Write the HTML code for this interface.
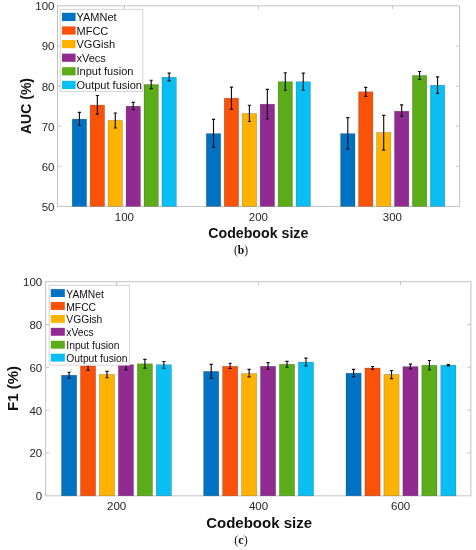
<!DOCTYPE html>
<html><head><meta charset="utf-8"><style>
html,body{margin:0;padding:0;background:#fff;width:476px;height:550px;overflow:hidden}
svg{display:block;filter:blur(0.3px)}
.tl{font-family:"Liberation Sans",sans-serif;fill:#262626}
.lt{font-family:"Liberation Sans",sans-serif;fill:#111}
.tt{font-family:"Liberation Sans",sans-serif;font-weight:bold;fill:#111}
.st{font-family:"Liberation Serif",serif;fill:#111}
</style></head><body>
<svg width="476" height="550" viewBox="0 0 476 550">
<rect x="57.5" y="5.8" width="402" height="200.6" fill="#fff" stroke="#C4C4C4" stroke-width="1"/>
<text x="54.5" y="210.9" text-anchor="end" class="tl" style="font-size:11.5px">50</text>
<line x1="57.5" y1="166.28" x2="61" y2="166.28" stroke="#C4C4C4"/>
<line x1="459.5" y1="166.28" x2="456" y2="166.28" stroke="#C4C4C4"/>
<text x="54.5" y="170.78" text-anchor="end" class="tl" style="font-size:11.5px">60</text>
<line x1="57.5" y1="126.16" x2="61" y2="126.16" stroke="#C4C4C4"/>
<line x1="459.5" y1="126.16" x2="456" y2="126.16" stroke="#C4C4C4"/>
<text x="54.5" y="130.66" text-anchor="end" class="tl" style="font-size:11.5px">70</text>
<line x1="57.5" y1="86.04" x2="61" y2="86.04" stroke="#C4C4C4"/>
<line x1="459.5" y1="86.04" x2="456" y2="86.04" stroke="#C4C4C4"/>
<text x="54.5" y="90.54" text-anchor="end" class="tl" style="font-size:11.5px">80</text>
<line x1="57.5" y1="45.92" x2="61" y2="45.92" stroke="#C4C4C4"/>
<line x1="459.5" y1="45.92" x2="456" y2="45.92" stroke="#C4C4C4"/>
<text x="54.5" y="50.42" text-anchor="end" class="tl" style="font-size:11.5px">90</text>
<text x="54.5" y="10.3" text-anchor="end" class="tl" style="font-size:11.5px">100</text>
<line x1="124.4" y1="5.8" x2="124.4" y2="9.3" stroke="#C4C4C4"/>
<text x="124.4" y="221" text-anchor="middle" class="tl" style="font-size:11.5px">100</text>
<line x1="258.4" y1="5.8" x2="258.4" y2="9.3" stroke="#C4C4C4"/>
<text x="258.4" y="221" text-anchor="middle" class="tl" style="font-size:11.5px">200</text>
<line x1="392.4" y1="5.8" x2="392.4" y2="9.3" stroke="#C4C4C4"/>
<text x="392.4" y="221" text-anchor="middle" class="tl" style="font-size:11.5px">300</text>
<rect x="72.2" y="119.1" width="14.4" height="87.3" fill="#0072C4" stroke="#000" stroke-opacity="0.28" stroke-width="0.6"/>
<rect x="90.15" y="105.1" width="14.4" height="101.3" fill="#FA5208" stroke="#000" stroke-opacity="0.28" stroke-width="0.6"/>
<rect x="108.1" y="120.4" width="14.4" height="86" fill="#FFB300" stroke="#000" stroke-opacity="0.28" stroke-width="0.6"/>
<rect x="126.05" y="106.2" width="14.4" height="100.2" fill="#912B91" stroke="#000" stroke-opacity="0.28" stroke-width="0.6"/>
<rect x="144" y="84.5" width="14.4" height="121.9" fill="#5AAD18" stroke="#000" stroke-opacity="0.28" stroke-width="0.6"/>
<rect x="161.95" y="77.2" width="14.4" height="129.2" fill="#08BEF2" stroke="#000" stroke-opacity="0.28" stroke-width="0.6"/>
<rect x="206.3" y="133.6" width="14.4" height="72.8" fill="#0072C4" stroke="#000" stroke-opacity="0.28" stroke-width="0.6"/>
<rect x="224.25" y="98.2" width="14.4" height="108.2" fill="#FA5208" stroke="#000" stroke-opacity="0.28" stroke-width="0.6"/>
<rect x="242.2" y="113.5" width="14.4" height="92.9" fill="#FFB300" stroke="#000" stroke-opacity="0.28" stroke-width="0.6"/>
<rect x="260.15" y="104.2" width="14.4" height="102.2" fill="#912B91" stroke="#000" stroke-opacity="0.28" stroke-width="0.6"/>
<rect x="278.1" y="81.7" width="14.4" height="124.7" fill="#5AAD18" stroke="#000" stroke-opacity="0.28" stroke-width="0.6"/>
<rect x="296.05" y="81.7" width="14.4" height="124.7" fill="#08BEF2" stroke="#000" stroke-opacity="0.28" stroke-width="0.6"/>
<rect x="340.6" y="133.6" width="14.4" height="72.8" fill="#0072C4" stroke="#000" stroke-opacity="0.28" stroke-width="0.6"/>
<rect x="358.55" y="91.8" width="14.4" height="114.6" fill="#FA5208" stroke="#000" stroke-opacity="0.28" stroke-width="0.6"/>
<rect x="376.5" y="132.5" width="14.4" height="73.9" fill="#FFB300" stroke="#000" stroke-opacity="0.28" stroke-width="0.6"/>
<rect x="394.45" y="111.2" width="14.4" height="95.2" fill="#912B91" stroke="#000" stroke-opacity="0.28" stroke-width="0.6"/>
<rect x="412.4" y="75.5" width="14.4" height="130.9" fill="#5AAD18" stroke="#000" stroke-opacity="0.28" stroke-width="0.6"/>
<rect x="430.35" y="85.2" width="14.4" height="121.2" fill="#08BEF2" stroke="#000" stroke-opacity="0.28" stroke-width="0.6"/>
<path d="M79.4 112.4V125.5M77.8 112.4H81M77.8 125.5H81" stroke="#111" stroke-width="1.15" fill="none"/>
<path d="M97.35 95.5V114.1M95.75 95.5H98.95M95.75 114.1H98.95" stroke="#111" stroke-width="1.15" fill="none"/>
<path d="M115.3 113V128M113.7 113H116.9M113.7 128H116.9" stroke="#111" stroke-width="1.15" fill="none"/>
<path d="M133.25 102.3V109.7M131.65 102.3H134.85M131.65 109.7H134.85" stroke="#111" stroke-width="1.15" fill="none"/>
<path d="M151.2 80.2V88.6M149.6 80.2H152.8M149.6 88.6H152.8" stroke="#111" stroke-width="1.15" fill="none"/>
<path d="M169.15 73.1V80.8M167.55 73.1H170.75M167.55 80.8H170.75" stroke="#111" stroke-width="1.15" fill="none"/>
<path d="M213.5 119.3V147.3M211.9 119.3H215.1M211.9 147.3H215.1" stroke="#111" stroke-width="1.15" fill="none"/>
<path d="M231.45 87.1V109.4M229.85 87.1H233.05M229.85 109.4H233.05" stroke="#111" stroke-width="1.15" fill="none"/>
<path d="M249.4 105.2V121.5M247.8 105.2H251M247.8 121.5H251" stroke="#111" stroke-width="1.15" fill="none"/>
<path d="M267.35 89.3V118.9M265.75 89.3H268.95M265.75 118.9H268.95" stroke="#111" stroke-width="1.15" fill="none"/>
<path d="M285.3 72.7V90.2M283.7 72.7H286.9M283.7 90.2H286.9" stroke="#111" stroke-width="1.15" fill="none"/>
<path d="M303.25 73.1V90.2M301.65 73.1H304.85M301.65 90.2H304.85" stroke="#111" stroke-width="1.15" fill="none"/>
<path d="M347.8 117.6V149.1M346.2 117.6H349.4M346.2 149.1H349.4" stroke="#111" stroke-width="1.15" fill="none"/>
<path d="M365.75 87.4V96.3M364.15 87.4H367.35M364.15 96.3H367.35" stroke="#111" stroke-width="1.15" fill="none"/>
<path d="M383.7 115.4V150.1M382.1 115.4H385.3M382.1 150.1H385.3" stroke="#111" stroke-width="1.15" fill="none"/>
<path d="M401.65 104.8V116.4M400.05 104.8H403.25M400.05 116.4H403.25" stroke="#111" stroke-width="1.15" fill="none"/>
<path d="M419.6 71.5V79.5M418 71.5H421.2M418 79.5H421.2" stroke="#111" stroke-width="1.15" fill="none"/>
<path d="M437.55 76.9V93.4M435.95 76.9H439.15M435.95 93.4H439.15" stroke="#111" stroke-width="1.15" fill="none"/>
<rect x="60.2" y="9.4" width="82.6" height="82" fill="#fff" stroke="#D4D4D4" stroke-width="1"/>
<rect x="62" y="12.8" width="13.6" height="8.2" fill="#0072C4"/>
<text x="76.5" y="21" class="lt" style="font-size:11px">YAMNet</text>
<rect x="62" y="26.4" width="13.6" height="8.2" fill="#FA5208"/>
<text x="76.5" y="34.6" class="lt" style="font-size:11px">MFCC</text>
<rect x="62" y="40" width="13.6" height="8.2" fill="#FFB300"/>
<text x="76.5" y="48.2" class="lt" style="font-size:11px">VGGish</text>
<rect x="62" y="53.6" width="13.6" height="8.2" fill="#912B91"/>
<text x="76.5" y="61.8" class="lt" style="font-size:11px">xVecs</text>
<rect x="62" y="67.2" width="13.6" height="8.2" fill="#5AAD18"/>
<text x="76.5" y="75.4" class="lt" style="font-size:11px">Input fusion</text>
<rect x="62" y="80.8" width="13.6" height="8.2" fill="#08BEF2"/>
<text x="76.5" y="89" class="lt" style="font-size:11px">Output fusion</text>
<text transform="translate(31,106) rotate(-90)" text-anchor="middle" class="tt" style="font-size:14px">AUC (%)</text>
<text x="258.3" y="238.2" text-anchor="middle" class="tt" style="font-size:14.2px">Codebook size</text>
<text x="241" y="254" text-anchor="middle" class="st" style="font-size:11.6px">(<tspan font-weight="bold">b</tspan>)</text>
<rect x="45.6" y="281.7" width="425.3" height="214.1" fill="#fff" stroke="#C4C4C4" stroke-width="1"/>
<text x="42.2" y="500.3" text-anchor="end" class="tl" style="font-size:11.5px">0</text>
<line x1="45.6" y1="452.98" x2="49.1" y2="452.98" stroke="#C4C4C4"/>
<line x1="470.9" y1="452.98" x2="467.4" y2="452.98" stroke="#C4C4C4"/>
<text x="42.2" y="457.48" text-anchor="end" class="tl" style="font-size:11.5px">20</text>
<line x1="45.6" y1="410.16" x2="49.1" y2="410.16" stroke="#C4C4C4"/>
<line x1="470.9" y1="410.16" x2="467.4" y2="410.16" stroke="#C4C4C4"/>
<text x="42.2" y="414.66" text-anchor="end" class="tl" style="font-size:11.5px">40</text>
<line x1="45.6" y1="367.34" x2="49.1" y2="367.34" stroke="#C4C4C4"/>
<line x1="470.9" y1="367.34" x2="467.4" y2="367.34" stroke="#C4C4C4"/>
<text x="42.2" y="371.84" text-anchor="end" class="tl" style="font-size:11.5px">60</text>
<line x1="45.6" y1="324.52" x2="49.1" y2="324.52" stroke="#C4C4C4"/>
<line x1="470.9" y1="324.52" x2="467.4" y2="324.52" stroke="#C4C4C4"/>
<text x="42.2" y="329.02" text-anchor="end" class="tl" style="font-size:11.5px">80</text>
<text x="42.2" y="286.2" text-anchor="end" class="tl" style="font-size:11.5px">100</text>
<line x1="116.6" y1="281.7" x2="116.6" y2="285.2" stroke="#C4C4C4"/>
<text x="116.6" y="510" text-anchor="middle" class="tl" style="font-size:11.5px">200</text>
<line x1="258.5" y1="281.7" x2="258.5" y2="285.2" stroke="#C4C4C4"/>
<text x="258.5" y="510" text-anchor="middle" class="tl" style="font-size:11.5px">400</text>
<line x1="400.6" y1="281.7" x2="400.6" y2="285.2" stroke="#C4C4C4"/>
<text x="400.6" y="510" text-anchor="middle" class="tl" style="font-size:11.5px">600</text>
<rect x="61.5" y="375.2" width="15.2" height="120.6" fill="#0072C4" stroke="#000" stroke-opacity="0.28" stroke-width="0.6"/>
<rect x="80.45" y="366" width="15.2" height="129.8" fill="#FA5208" stroke="#000" stroke-opacity="0.28" stroke-width="0.6"/>
<rect x="99.4" y="374.4" width="15.2" height="121.4" fill="#FFB300" stroke="#000" stroke-opacity="0.28" stroke-width="0.6"/>
<rect x="118.35" y="364.7" width="15.2" height="131.1" fill="#912B91" stroke="#000" stroke-opacity="0.28" stroke-width="0.6"/>
<rect x="137.3" y="363.8" width="15.2" height="132" fill="#5AAD18" stroke="#000" stroke-opacity="0.28" stroke-width="0.6"/>
<rect x="156.25" y="364.7" width="15.2" height="131.1" fill="#08BEF2" stroke="#000" stroke-opacity="0.28" stroke-width="0.6"/>
<rect x="203.6" y="371.4" width="15.2" height="124.4" fill="#0072C4" stroke="#000" stroke-opacity="0.28" stroke-width="0.6"/>
<rect x="222.55" y="366.3" width="15.2" height="129.5" fill="#FA5208" stroke="#000" stroke-opacity="0.28" stroke-width="0.6"/>
<rect x="241.5" y="373.6" width="15.2" height="122.2" fill="#FFB300" stroke="#000" stroke-opacity="0.28" stroke-width="0.6"/>
<rect x="260.45" y="366.3" width="15.2" height="129.5" fill="#912B91" stroke="#000" stroke-opacity="0.28" stroke-width="0.6"/>
<rect x="279.4" y="364.3" width="15.2" height="131.5" fill="#5AAD18" stroke="#000" stroke-opacity="0.28" stroke-width="0.6"/>
<rect x="298.35" y="362.1" width="15.2" height="133.7" fill="#08BEF2" stroke="#000" stroke-opacity="0.28" stroke-width="0.6"/>
<rect x="346" y="373.2" width="15.2" height="122.6" fill="#0072C4" stroke="#000" stroke-opacity="0.28" stroke-width="0.6"/>
<rect x="364.95" y="368" width="15.2" height="127.8" fill="#FA5208" stroke="#000" stroke-opacity="0.28" stroke-width="0.6"/>
<rect x="383.9" y="374.4" width="15.2" height="121.4" fill="#FFB300" stroke="#000" stroke-opacity="0.28" stroke-width="0.6"/>
<rect x="402.85" y="366.6" width="15.2" height="129.2" fill="#912B91" stroke="#000" stroke-opacity="0.28" stroke-width="0.6"/>
<rect x="421.8" y="365.2" width="15.2" height="130.6" fill="#5AAD18" stroke="#000" stroke-opacity="0.28" stroke-width="0.6"/>
<rect x="440.75" y="365.2" width="15.2" height="130.6" fill="#08BEF2" stroke="#000" stroke-opacity="0.28" stroke-width="0.6"/>
<path d="M69.1 372.2V378.4M67.5 372.2H70.7M67.5 378.4H70.7" stroke="#111" stroke-width="1.15" fill="none"/>
<path d="M88.05 362V370.3M86.45 362H89.65M86.45 370.3H89.65" stroke="#111" stroke-width="1.15" fill="none"/>
<path d="M107 371.3V377.7M105.4 371.3H108.6M105.4 377.7H108.6" stroke="#111" stroke-width="1.15" fill="none"/>
<path d="M125.95 361V369.9M124.35 361H127.55M124.35 369.9H127.55" stroke="#111" stroke-width="1.15" fill="none"/>
<path d="M144.9 359.3V368.2M143.3 359.3H146.5M143.3 368.2H146.5" stroke="#111" stroke-width="1.15" fill="none"/>
<path d="M163.85 361.5V368.2M162.25 361.5H165.45M162.25 368.2H165.45" stroke="#111" stroke-width="1.15" fill="none"/>
<path d="M211.2 364.3V378.3M209.6 364.3H212.8M209.6 378.3H212.8" stroke="#111" stroke-width="1.15" fill="none"/>
<path d="M230.15 363.2V368.5M228.55 363.2H231.75M228.55 368.5H231.75" stroke="#111" stroke-width="1.15" fill="none"/>
<path d="M249.1 369.4V376.9M247.5 369.4H250.7M247.5 376.9H250.7" stroke="#111" stroke-width="1.15" fill="none"/>
<path d="M268.05 362.6V369.2M266.45 362.6H269.65M266.45 369.2H269.65" stroke="#111" stroke-width="1.15" fill="none"/>
<path d="M287 361.3V367.2M285.4 361.3H288.6M285.4 367.2H288.6" stroke="#111" stroke-width="1.15" fill="none"/>
<path d="M305.95 358.1V366M304.35 358.1H307.55M304.35 366H307.55" stroke="#111" stroke-width="1.15" fill="none"/>
<path d="M353.6 369.4V376.6M352 369.4H355.2M352 376.6H355.2" stroke="#111" stroke-width="1.15" fill="none"/>
<path d="M372.55 366.5V369.4M370.95 366.5H374.15M370.95 369.4H374.15" stroke="#111" stroke-width="1.15" fill="none"/>
<path d="M391.5 370.5V378.6M389.9 370.5H393.1M389.9 378.6H393.1" stroke="#111" stroke-width="1.15" fill="none"/>
<path d="M410.45 364.1V368.9M408.85 364.1H412.05M408.85 368.9H412.05" stroke="#111" stroke-width="1.15" fill="none"/>
<path d="M429.4 360.5V369.7M427.8 360.5H431M427.8 369.7H431" stroke="#111" stroke-width="1.15" fill="none"/>
<path d="M448.35 364.6V365.8M446.75 364.6H449.95M446.75 365.8H449.95" stroke="#111" stroke-width="1.15" fill="none"/>
<rect x="49.2" y="285.3" width="80.2" height="79.8" fill="#fff" stroke="#D4D4D4" stroke-width="1"/>
<rect x="50.8" y="289.1" width="14" height="7.9" fill="#0072C4"/>
<text x="66.3" y="297.6" class="lt" style="font-size:10.3px">YAMNet</text>
<rect x="50.8" y="302.02" width="14" height="7.9" fill="#FA5208"/>
<text x="66.3" y="310.52" class="lt" style="font-size:10.3px">MFCC</text>
<rect x="50.8" y="314.94" width="14" height="7.9" fill="#FFB300"/>
<text x="66.3" y="323.44" class="lt" style="font-size:10.3px">VGGish</text>
<rect x="50.8" y="327.86" width="14" height="7.9" fill="#912B91"/>
<text x="66.3" y="336.36" class="lt" style="font-size:10.3px">xVecs</text>
<rect x="50.8" y="340.78" width="14" height="7.9" fill="#5AAD18"/>
<text x="66.3" y="349.28" class="lt" style="font-size:10.3px">Input fusion</text>
<rect x="50.8" y="353.7" width="14" height="7.9" fill="#08BEF2"/>
<text x="66.3" y="362.2" class="lt" style="font-size:10.3px">Output fusion</text>
<text transform="translate(17.8,388.5) rotate(-90)" text-anchor="middle" class="tt" style="font-size:15px">F1 (%)</text>
<text x="259.1" y="528" text-anchor="middle" class="tt" style="font-size:15px">Codebook size</text>
<text x="241" y="543.8" text-anchor="middle" class="st" style="font-size:12px">(<tspan font-weight="bold">c</tspan>)</text>
</svg>
</body></html>
